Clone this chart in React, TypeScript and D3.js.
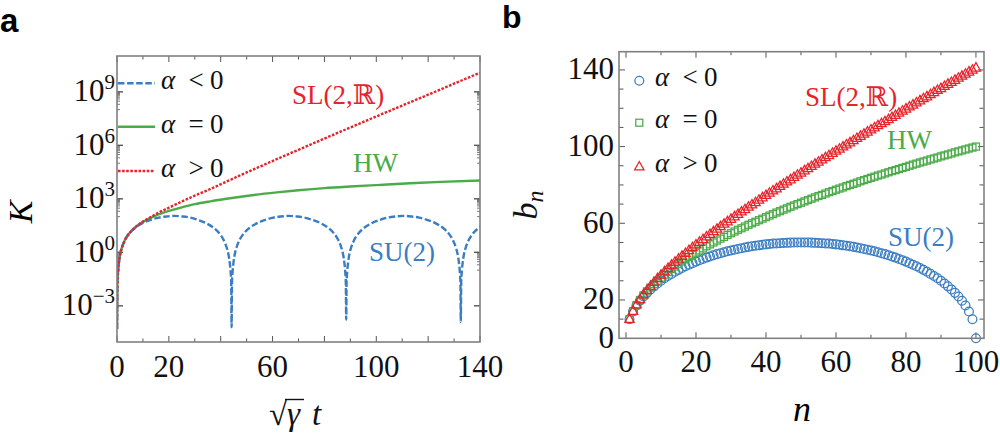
import React from 'react';
import * as d3 from 'd3';

// ---------- Panel a: Krylov complexity K vs sqrt(gamma) t ----------
const tRed = [0.01, 0.15, 0.4, 0.7, 1.2, 1.9, 3, 4.5, 6.5, 9.7, 13, 16, 20, 25, 30, 36, 42, 48, 55, 62, 70, 80, 90, 100, 110, 120, 130, 140];
const kRed = [5e-5, 0.02, 0.089, 0.25, 0.76, 1.86, 4.7, 10.5, 21.4, 50, 95, 166, 316, 708, 1510, 3550, 8900, 22400, 63100, 178000, 562000, 2.4e6, 1.0e7, 4.17e7, 1.7e8, 6.9e8, 2.88e9, 1.17e10];

const tGreen = [0.01, 0.15, 0.4, 0.7, 1.2, 1.9, 3, 4.5, 6.5, 9.7, 13, 16, 20, 25, 30, 36, 45, 52, 61.6, 70, 80, 90, 100, 113, 125, 140];
const kGreen = [5e-5, 0.02, 0.089, 0.25, 0.76, 1.86, 4.7, 10.5, 20.9, 46.8, 85, 132, 209, 331, 501, 724, 1150, 1585, 2290, 3020, 3980, 4900, 5890, 7410, 8910, 10700];

const tBlue = [
  0.01, 0.15, 0.4, 0.7, 1.2, 1.9, 3, 4.5, 6.5, 9.7, 13, 16.1, 19, 22.1, 25.2, 28.1, 31.2, 34.5, 37.7, 39.7, 41.2, 42.3, 43.0, 43.5, 43.8, 44.05, 44.2,
  44.35, 44.6, 44.9, 45.4, 46.1, 47.2, 48.7, 50.7, 53.9, 57.2, 60.3, 63.2, 66.3, 69.4, 72.3, 75.4, 78.7, 81.9, 83.9, 85.4, 86.5, 87.2, 87.7, 88.0, 88.25, 88.4,
  88.55, 88.8, 89.1, 89.6, 90.3, 91.4, 92.9, 94.9, 98.1, 101.4, 104.5, 107.4, 110.5, 113.6, 116.5, 119.6, 122.9, 126.1, 128.1, 129.6, 130.7, 131.4, 131.9, 132.2, 132.45, 132.6,
  132.75, 133.0, 133.3, 133.8, 134.5, 135.6, 137.1, 139.1, 140,
];
const kBlue = [
  5e-5, 0.02, 0.089, 0.25, 0.76, 1.86, 4.7, 10.5, 21, 42, 66, 89, 102, 110, 102, 89, 66, 42, 21, 10.5, 4.7, 1.86, 0.76, 0.25, 0.089, 0.02, 6.3e-5,
  0.02, 0.089, 0.25, 0.76, 1.86, 4.7, 10.5, 21, 42, 66, 89, 102, 110, 102, 89, 66, 42, 21, 10.5, 4.7, 1.86, 0.76, 0.25, 0.089, 0.02, 1.7e-4,
  0.02, 0.089, 0.25, 0.76, 1.86, 4.7, 10.5, 21, 42, 66, 89, 102, 110, 102, 89, 66, 42, 21, 10.5, 4.7, 1.86, 0.76, 0.25, 0.089, 0.02, 1.26e-4,
  0.02, 0.089, 0.25, 0.76, 1.86, 4.7, 10.5, 21, 26,
];

const aXTickLabels = [0, 20, 60, 100, 140];
const aYTickExps = [-3, 0, 3, 6, 9];

// ---------- Panel b: Lanczos coefficients b_n ----------
const nIndex = d3.range(1, 101);
const bBlue = [
  9.9, 14.0, 17.1, 19.6, 21.8, 23.7, 25.5, 27.1, 28.6, 30.0,
  31.3, 32.5, 33.6, 34.7, 35.7, 36.7, 37.6, 38.4, 39.2, 40.0,
  40.7, 41.4, 42.1, 42.7, 43.3, 43.9, 44.4, 44.9, 45.4, 45.8,
  46.2, 46.6, 47.0, 47.4, 47.7, 48.0, 48.3, 48.5, 48.8, 49.0,
  49.2, 49.4, 49.5, 49.6, 49.7, 49.8, 49.9, 50.0, 50.0, 50.0,
  50.0, 50.0, 49.9, 49.8, 49.7, 49.6, 49.5, 49.4, 49.2, 49.0,
  48.8, 48.5, 48.3, 48.0, 47.7, 47.4, 47.0, 46.6, 46.2, 45.8,
  45.4, 44.9, 44.4, 43.9, 43.3, 42.7, 42.1, 41.4, 40.7, 40.0,
  39.2, 38.4, 37.6, 36.7, 35.7, 34.7, 33.6, 32.5, 31.3, 30.0,
  28.6, 27.1, 25.5, 23.7, 21.8, 19.6, 17.1, 14.0, 9.9, 0,
];
const bGreen = [
  10, 14.1, 17.3, 20, 22.4, 24.5, 26.5, 28.3, 30, 31.6,
  33.2, 34.6, 36.1, 37.4, 38.7, 40, 41.2, 42.4, 43.6, 44.7,
  45.8, 46.9, 48, 49, 50, 51, 52, 52.9, 53.9, 54.8,
  55.7, 56.6, 57.4, 58.3, 59.2, 60, 60.8, 61.6, 62.4, 63.2,
  64, 64.8, 65.6, 66.3, 67.1, 67.8, 68.6, 69.3, 70, 70.7,
  71.4, 72.1, 72.8, 73.5, 74.2, 74.8, 75.5, 76.2, 76.8, 77.5,
  78.1, 78.7, 79.4, 80, 80.6, 81.2, 81.9, 82.5, 83.1, 83.7,
  84.3, 84.9, 85.4, 86, 86.6, 87.2, 87.7, 88.3, 88.9, 89.4,
  90, 90.6, 91.1, 91.7, 92.2, 92.7, 93.3, 93.8, 94.3, 94.9,
  95.4, 95.9, 96.4, 97, 97.5, 98, 98.5, 99, 99.5, 100,
];
const bRed = [
  10, 14.2, 17.5, 20.3, 22.8, 25.1, 27.2, 29.3, 31.2, 33.0,
  34.8, 36.5, 38.2, 39.8, 41.4, 42.9, 44.4, 45.9, 47.4, 48.8,
  50.2, 51.6, 53.0, 54.3, 55.7, 57.0, 58.3, 59.6, 60.9, 62.2,
  63.5, 64.7, 66.0, 67.2, 68.5, 69.7, 70.9, 72.2, 73.4, 74.6,
  75.8, 77.0, 78.1, 79.3, 80.5, 81.7, 82.8, 84.0, 85.2, 86.3,
  87.5, 88.6, 89.8, 90.9, 92.0, 93.2, 94.3, 95.4, 96.6, 97.7,
  98.8, 99.9, 101.0, 102.1, 103.2, 104.4, 105.5, 106.6, 107.7, 108.8,
  109.9, 111.0, 112.1, 113.1, 114.2, 115.3, 116.4, 117.5, 118.6, 119.7,
  120.8, 121.8, 122.9, 124.0, 125.1, 126.1, 127.2, 128.3, 129.4, 130.4,
  131.5, 132.6, 133.6, 134.7, 135.8, 136.8, 137.9, 139.0, 140.0, 141.1,
];
const bXTickLabels = [0, 20, 40, 60, 80, 100];
const bYTickLabels = [0, 20, 60, 100, 140];

const SERIF = "'Liberation Serif', 'DejaVu Serif', serif";
const SANS = "'Liberation Sans', Arial, sans-serif";
const BLUE = '#3a7dc2';
const GREEN = '#4bab49';
const RED = '#e6232b';
const FRAME = '#808080';
const TICK = '#555';

function Legend({ x, y, rel }: { x: number; y: number; rel: string }) {
  return (
    <g fontFamily={SERIF} fontSize={27} fill="#111">
      <text x={x} y={y} fontStyle="italic">α</text>
      <text x={x + 35} y={y} textAnchor="middle">{rel}</text>
      <text x={x + 49} y={y}>0</text>
    </g>
  );
}

export default function App() {
  // ---- panel a scales
  const A = { x0: 117, x1: 480, y0: 56, y1: 342 };
  const xA = d3.scaleLinear().domain([0, 140]).range([A.x0, A.x1]);
  const yA = d3.scaleLog().domain([Math.pow(10, -5.03), Math.pow(10, 11.01)]).range([A.y1, A.y0]);
  const lineA = (ts: number[], ks: number[]) =>
    d3.line<number>().x((_, i) => xA(ts[i])).y((_, i) => yA(ks[i])).curve(d3.curveMonotoneX)(ts) || '';

  const aXTicks = d3.range(0, 141, 10);
  const aMinorY: number[] = [];
  [0, 3, 6, 9].forEach((k) => {
    for (let m = 1; m <= 9; m++) aMinorY.push(m * Math.pow(10, k - 1));
  });

  // ---- panel b scales
  const B = { x0: 619, x1: 984, y0: 51.7, y1: 338.3 };
  const xB = d3.scaleLinear().domain([-2, 102.3]).range([B.x0, B.x1]);
  const yB = d3.scaleLinear().domain([0, 149.5]).range([B.y1, B.y0]);
  const bXTicks = d3.range(0, 101, 10);
  const bYTicks = d3.range(10, 141, 10);

  const tri = 'M0,-5.2L4.7,3.2L-4.7,3.2Z';

  return (
    <div style={{ position: 'fixed', left: 0, top: 0 }}>
      <svg width={1000} height={433} style={{ display: 'block', background: '#fff' }}>
        <defs>
          <clipPath id="clipA">
            <rect x={A.x0} y={A.y0} width={A.x1 - A.x0} height={A.y1 - A.y0} />
          </clipPath>
          <clipPath id="clipB">
            <rect x={B.x0} y={B.y0 - 10} width={B.x1 - B.x0 + 10} height={B.y1 - B.y0 + 20} />
          </clipPath>
        </defs>

        {/* panel labels */}
        <text x={0} y={32} fontFamily={SANS} fontWeight="bold" fontSize={33}>a</text>
        <text x={502} y={28} fontFamily={SANS} fontWeight="bold" fontSize={32}>b</text>

        {/* ================= Panel a ================= */}
        <g stroke={TICK} strokeWidth={1}>
          {aXTicks.map((t) => {
            const len = t % 20 === 0 ? 6 : 3.5;
            return (
              <g key={'ax' + t}>
                <line x1={xA(t)} x2={xA(t)} y1={A.y1} y2={A.y1 - len} />
                <line x1={xA(t)} x2={xA(t)} y1={A.y0} y2={A.y0 + len} />
              </g>
            );
          })}
          {aYTickExps.map((e) => (
            <g key={'ay' + e}>
              <line x1={A.x0} x2={A.x0 + 6} y1={yA(Math.pow(10, e))} y2={yA(Math.pow(10, e))} strokeWidth={1.4} />
              <line x1={A.x1} x2={A.x1 - 6} y1={yA(Math.pow(10, e))} y2={yA(Math.pow(10, e))} strokeWidth={1.4} />
            </g>
          ))}
          {aMinorY.map((v, i) => (
            <g key={'am' + i}>
              <line x1={A.x0} x2={A.x0 + 3} y1={yA(v)} y2={yA(v)} strokeWidth={0.8} />
              <line x1={A.x1} x2={A.x1 - 3} y1={yA(v)} y2={yA(v)} strokeWidth={0.8} />
            </g>
          ))}
        </g>

        <g clipPath="url(#clipA)" fill="none" strokeWidth={2.4}>
          <path d={lineA(tGreen, kGreen)} stroke={GREEN} />
          <path d={lineA(tBlue, kBlue)} stroke={BLUE} strokeDasharray="6.5,2.6" />
          <path d={lineA(tRed, kRed)} stroke={RED} strokeDasharray="2.6,1.5" />
        </g>

        <rect x={A.x0} y={A.y0} width={A.x1 - A.x0} height={A.y1 - A.y0} fill="none" stroke={FRAME} strokeWidth={1.6} />

        <g fontFamily={SERIF} fontSize={31} fill="#111">
          {aXTickLabels.map((t) => (
            <text key={'axl' + t} x={xA(t)} y={377} textAnchor="middle">{t}</text>
          ))}
          {aYTickExps.map((e) => (
            <text key={'ayl' + e} x={115} y={yA(Math.pow(10, e)) + 9.5} textAnchor="end">
              10<tspan dy={-12} fontSize={21}>{e < 0 ? '\u2212' + Math.abs(e) : e}</tspan>
            </text>
          ))}
        </g>

        {/* axis titles a */}
        <text transform="translate(32,212) rotate(-90)" textAnchor="middle" fontFamily={SERIF} fontStyle="italic" fontSize={34}>K</text>
        <g fontFamily={SERIF} fontSize={33} fill="#111">
          <text x={269} y={425}>√</text>
          <line x1={285} x2={304} y1={399.5} y2={399.5} stroke="#111" strokeWidth={1.4} />
          <text x={287} y={425} fontStyle="italic">γ</text>
          <text x={312} y={425} fontStyle="italic">t</text>
        </g>

        {/* legend a */}
        <g strokeWidth={2.4}>
          <line x1={118} x2={155} y1={83.3} y2={83.3} stroke={BLUE} strokeDasharray="6.5,2.6" />
          <line x1={118} x2={155} y1={126.7} y2={126.7} stroke={GREEN} />
          <line x1={118} x2={155} y1={171} y2={171} stroke={RED} strokeDasharray="2.6,1.5" />
        </g>
        <Legend x={161} y={88.5} rel="<" />
        <Legend x={161} y={133} rel="=" />
        <Legend x={161} y={177} rel=">" />

        <g fontFamily={SERIF} fontSize={27}>
          <text x={292} y={104} fill={RED}>SL(2,ℝ)</text>
          <text x={353} y={172} fill={GREEN}>HW</text>
          <text x={369} y={261} fill={BLUE}>SU(2)</text>
        </g>

        {/* ================= Panel b ================= */}
        <g stroke={TICK} strokeWidth={1}>
          {bXTicks.map((n) => {
            const len = n % 20 === 0 ? 6 : 3.5;
            return (
              <g key={'bx' + n}>
                <line x1={xB(n)} x2={xB(n)} y1={B.y1} y2={B.y1 - len} />
                <line x1={xB(n)} x2={xB(n)} y1={B.y0} y2={B.y0 + len} />
              </g>
            );
          })}
          {bYTicks.map((v) => {
            const len = bYTickLabels.includes(v) ? 6 : 4.5;
            return (
              <g key={'by' + v}>
                <line x1={B.x0} x2={B.x0 + len} y1={yB(v)} y2={yB(v)} />
                <line x1={B.x1} x2={B.x1 - len} y1={yB(v)} y2={yB(v)} />
              </g>
            );
          })}
        </g>

        <g clipPath="url(#clipB)" fill="none" strokeWidth={1.25}>
          {nIndex.map((n, i) => (
            <circle key={'c' + n} cx={xB(n)} cy={yB(bBlue[i])} r={4.4} stroke={BLUE} />
          ))}
          {nIndex.map((n, i) => (
            <rect key={'s' + n} x={xB(n) - 3.5} y={yB(bGreen[i]) - 3.5} width={7} height={7} stroke={GREEN} />
          ))}
          {nIndex.map((n, i) => (
            <path key={'t' + n} d={tri} transform={`translate(${xB(n)},${yB(bRed[i])})`} stroke={RED} />
          ))}
        </g>

        <rect x={B.x0} y={B.y0} width={B.x1 - B.x0} height={B.y1 - B.y0} fill="none" stroke={FRAME} strokeWidth={1.6} />

        <g fontFamily={SERIF} fontSize={31} fill="#111">
          {bXTickLabels.map((n) => (
            <text key={'bxl' + n} x={xB(n)} y={372} textAnchor="middle">{n}</text>
          ))}
          {bYTickLabels.map((v) => (
            <text key={'byl' + v} x={614} y={yB(v) + 9.5} textAnchor="end">{v}</text>
          ))}
        </g>

        {/* axis titles b */}
        <g transform="translate(537,205) rotate(-90)" fontFamily={SERIF} fontStyle="italic" fontSize={34} fill="#111">
          <text textAnchor="middle">b<tspan dy={6} fontSize={24}>n</tspan></text>
        </g>
        <text x={802} y={421} textAnchor="middle" fontFamily={SERIF} fontStyle="italic" fontSize={36}>n</text>

        {/* legend b */}
        <g fill="none" strokeWidth={1.25}>
          <circle cx={639.3} cy={80.7} r={4.4} stroke={BLUE} />
          <rect x={639.3 - 3.5} y={122.7 - 3.5} width={7} height={7} stroke={GREEN} />
          <path d={tri} transform="translate(639.3,166.7)" stroke={RED} />
        </g>
        <Legend x={655} y={85.5} rel="<" />
        <Legend x={655} y={127.5} rel="=" />
        <Legend x={655} y={171.5} rel=">" />

        <g fontFamily={SERIF} fontSize={27}>
          <text x={805} y={106} fill={RED}>SL(2,ℝ)</text>
          <text x={887} y={149} fill={GREEN}>HW</text>
          <text x={888} y={246} fill={BLUE}>SU(2)</text>
        </g>
      </svg>
    </div>
  );
}
